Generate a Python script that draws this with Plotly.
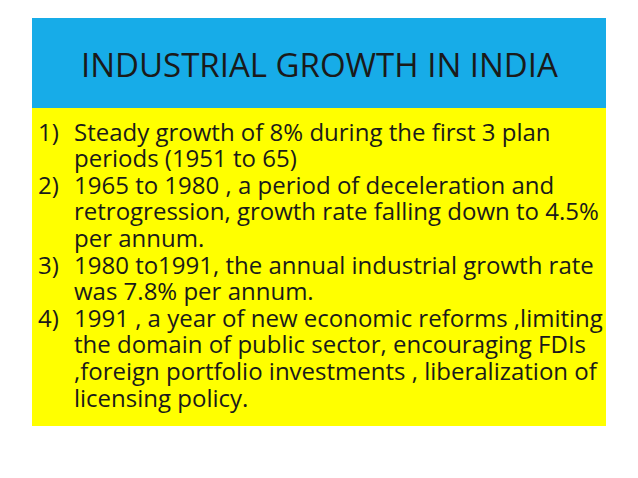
import plotly.graph_objects as go

title = "INDUSTRIAL GROWTH IN INDIA"
numbers = ["1)", "2)", "3)", "4)"]
items = [
    ["Steady growth of 8% during the first 3 plan", "periods (1951 to 65)"],
    ["1965 to 1980 , a period of deceleration and", "retrogression, growth rate falling down to 4.5%", "per annum."],
    ["1980 to1991, the annual industrial growth rate", "was 7.8% per annum."],
    ["1991 , a year of new economic reforms ,limiting", "the domain of public sector, encouraging FDIs", ",foreign portfolio investments , liberalization of", "licensing policy."],
]

FONT = "Open Sans"
OFF = 8  # page body margin compensation
fig = go.Figure()
fig.add_shape(type="rect", x0=32-OFF, x1=606-OFF, y0=18-OFF, y1=108-OFF, fillcolor="#17ACE8", line_width=0, layer="below")
fig.add_shape(type="rect", x0=32-OFF, x1=606-OFF, y0=108-OFF, y1=426-OFF, fillcolor="#FFFF00", line_width=0, layer="below")
fig.add_annotation(x=319-OFF, y=64-OFF, text=title, showarrow=False, xanchor="center", yanchor="middle",
                   font=dict(family=FONT, size=33, color="#1a1a1a"))
y = 131 - OFF
step = 26.6
for n, lines in zip(numbers, items):
    fig.add_annotation(x=36-OFF, y=y, text=n, showarrow=False, xanchor="left", yanchor="middle",
                       font=dict(family=FONT, size=24, color="#1a1a1a"))
    for ln in lines:
        fig.add_annotation(x=72-OFF, y=y, text=ln, showarrow=False, xanchor="left", yanchor="middle",
                           font=dict(family=FONT, size=24, color="#1a1a1a"))
        y += step
fig.update_layout(width=638, height=478, margin=dict(l=0, r=0, t=0, b=0),
                  plot_bgcolor="white", paper_bgcolor="white", showlegend=False,
                  xaxis=dict(range=[0, 638], visible=False, fixedrange=True),
                  yaxis=dict(range=[478, 0], visible=False, fixedrange=True))
fig.write_html("out.html", config={"displayModeBar": False})
